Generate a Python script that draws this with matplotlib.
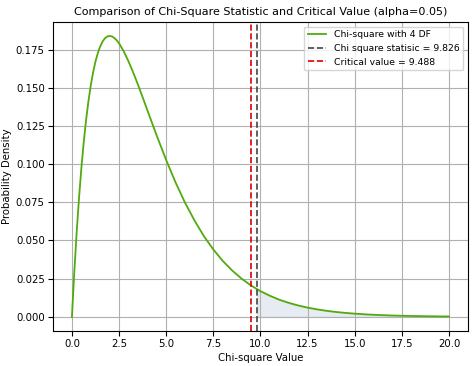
import numpy as np
import matplotlib
matplotlib.use("Agg")
import matplotlib.pyplot as plt

# values
x_vals = [0.0, 0.125, 0.25, 0.375, 0.5, 0.625, 0.75, 0.875, 1.0, 1.125, 1.25,
          1.375, 1.5, 1.625, 1.75, 1.875, 2.0, 2.125, 2.25, 2.375, 2.5, 2.75,
          3.0, 3.25, 3.5, 3.75, 4.0, 4.5, 5.0, 5.5, 6.0, 6.5, 7.0, 7.5, 8.0,
          8.5, 9.0, 9.5, 9.826, 10.0, 10.5, 11.0, 11.5, 12.0, 12.5, 13.0, 13.5,
          14.0, 14.5, 15.0, 15.5, 16.0, 16.5, 17.0, 17.5, 18.0, 18.5, 19.0,
          19.5, 20.0]
density = [0.0, 0.0294, 0.0552, 0.0777, 0.0974, 0.1143, 0.1289, 0.1412,
           0.1516, 0.1603, 0.1673, 0.1728, 0.1771, 0.1803, 0.1824, 0.1836,
           0.1839, 0.1836, 0.1826, 0.1811, 0.1791, 0.1738, 0.1673, 0.1600,
           0.1521, 0.1438, 0.1353, 0.1186, 0.1026, 0.0879, 0.0747, 0.0631,
           0.0528, 0.0441, 0.0366, 0.0303, 0.0250, 0.0205, 0.0181, 0.0168,
           0.0138, 0.0112, 0.00915, 0.00744, 0.00603, 0.00489, 0.00395,
           0.00319, 0.00257, 0.00207, 0.00167, 0.00134, 0.00108, 0.00086,
           0.00069, 0.00055, 0.00044, 0.00036, 0.00028, 0.00023]
dof = 4
chi_stat = 9.826
critical = 9.488

x = np.array(x_vals)
y = np.array(density)

fig, ax = plt.subplots(figsize=(4.74, 3.66), dpi=100)
ax.plot(x, y, color='#52aa0c', lw=1.3, label='Chi-square with %d DF' % dof)
ax.fill_between(x, y, where=x >= chi_stat, color='#c9d6e3', alpha=0.45)
ax.axvline(chi_stat, color='#444444', ls='--', lw=1.2,
           label='Chi square statisic = %.3f' % chi_stat)
ax.axvline(critical, color='#dd0000', ls='--', lw=1.2,
           label='Critical value = %.3f' % critical)

ax.set_title('Comparison of Chi-Square Statistic and Critical Value (alpha=0.05)',
             fontsize=8.0, pad=5)
ax.set_xlabel('Chi-square Value', fontsize=7.3, labelpad=3)
ax.set_ylabel('Probability Density', fontsize=7.3, labelpad=3)
ax.tick_params(labelsize=7.3, pad=2.5)
ax.set_xticks(np.arange(0, 20.1, 2.5))
ax.grid(True, color='#b0b0b0', lw=0.8)
ax.legend(fontsize=6.7, loc='upper right')

plt.subplots_adjust(left=0.112, right=0.987, top=0.94, bottom=0.096)
fig.savefig('out.png', dpi=100)
